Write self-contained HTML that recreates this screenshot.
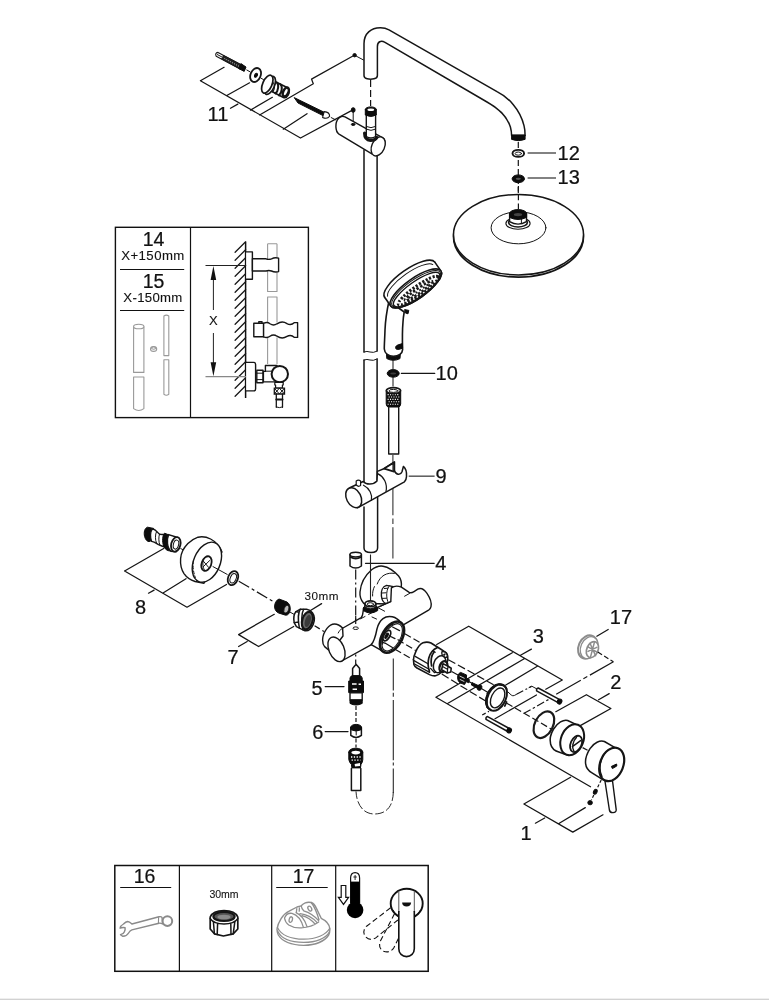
<!DOCTYPE html>
<html><head><meta charset="utf-8"><title>Exploded view</title>
<style>
html,body{margin:0;padding:0;background:#fff;}
body{width:769px;height:1000px;overflow:hidden;position:relative;}
svg{display:block;position:absolute;left:0;top:0;will-change:transform;}
svg text{font-family:"Liberation Sans",sans-serif;fill:#111;}
.k{stroke:#151515;stroke-width:1.4;fill:none;stroke-linecap:round;stroke-linejoin:round;}
.w{stroke:#151515;stroke-width:1.4;fill:#fff;stroke-linecap:round;stroke-linejoin:round;}
.n{stroke:#151515;stroke-width:1;fill:none;stroke-linecap:round;stroke-linejoin:round;}
.nw{stroke:#151515;stroke-width:1;fill:#fff;stroke-linejoin:round;}
.t{stroke:#151515;stroke-width:1.25;fill:none;stroke-linecap:round;stroke-linejoin:round;}
.l{stroke:#5a5a5a;stroke-width:1.5;fill:none;}
.d{stroke:#151515;stroke-width:1.2;fill:none;stroke-dasharray:9 3 2 3;}
.ds{stroke:#151515;stroke-width:1.2;fill:none;stroke-dasharray:5 3;}
.b{fill:#0c0c0c;stroke:#0c0c0c;stroke-width:1;}
.g{stroke:#999;stroke-width:1.1;fill:none;stroke-linecap:round;stroke-linejoin:round;}
.gw{stroke:#999;stroke-width:1.1;fill:#fff;stroke-linejoin:round;}
.big{font-size:20px;stroke:#111;stroke-width:0.22px;}
.sm{font-size:13px;stroke:#111;stroke-width:0.12px;}
.xs{font-size:10.5px;stroke:#111;stroke-width:0.1px;}
</style></head><body>
<svg width="769" height="1000" viewBox="0 0 769 1000">
<rect x="0" y="0" width="769" height="1000" fill="#fff"/>
<rect x="0" y="998" width="769" height="1" fill="#efefef"/>
<rect x="0" y="999" width="769" height="1" fill="#d2d2d2"/>

<!-- ===== SHOWER ARM ===== -->
<g id="arm">
<path class="w" style="stroke-width:1.5" d="M364,75.4 L364,43.6 C364,33.5 371,27.7 380.5,27.8 C384,27.9 386.6,28.6 389,29.8 L497,91.6 C508,97 520,109 524,125.6 C524.8,128.6 525.1,131 525.1,135.5 L511.6,135.5 C511.6,132 511.2,130 510.4,127 C507,116 496,107 487,102 L385,42.4 C381,40.2 377.4,41.6 377.4,46.4 L377.4,75.4 Q377.4,78 374,78.8 Q370.6,79.6 367.2,78.8 Q364,78 364,75.4 Z"/>
<path class="b" d="M511.6,135 L525.1,135 L525.1,139.4 Q518.3,142 511.6,139.4 Z"/>
</g>
<!-- dashed from arm to connector -->
<path class="ds" style="stroke-dasharray:7 3" d="M370.6,80 L370.6,106"/>

<!-- ===== RAIL ===== -->
<g id="rail">
<path class="k" style="stroke-width:1.5" d="M364,150 L364,352 M377.1,152 L377.1,351"/>
<path class="k" style="stroke-width:1.5" d="M364,360 L364,494 M377.1,359 L377.1,480"/>
<path class="n" d="M364,352 q3,-1.2 6,0 t7.1,-0.8 M364,360 q3,-1.2 6,0 t7.1,-1"/>
<path class="k" style="stroke-width:1.5" d="M364,507 L364,548 Q364,552.5 371,552.5 Q377.6,552.5 377.6,548 L377.6,495"/>
</g>

<!-- ===== WALL BRACKET ===== -->
<g id="bracket">
<path class="w" d="M345,116.9 C340.5,114.8 335.6,119.5 335.9,126.9 C336.1,130.5 337,132.6 338.6,133.8 L372.3,154.2 C376,156.5 382,153 384.3,146 C385.3,142 384.8,139.2 383.3,138.2 Z"/>
<ellipse class="w" cx="378.2" cy="146.4" rx="6.4" ry="10" transform="rotate(24 378.2 146.4)"/>
<!-- connector -->
<path class="k" style="stroke-width:3.2" d="M364.6,133 Q364.6,140 370.5,140.4 Q375.5,140.4 376.8,137.4"/>
<path class="w" d="M366.3,114 L366.3,136.5 Q371,139.5 375.6,136.5 L375.6,114 Z"/>
<path class="n" d="M366.3,126.5 Q371,129 375.6,126.5 M366.3,129.2 Q371,131.7 375.6,129.2"/>
<path class="b" d="M365.3,109.5 L365.3,115 Q370.8,118 376.3,115 L376.3,109.5 Z"/>
<ellipse class="b" cx="370.8" cy="109.5" rx="5.5" ry="2.6"/>
<ellipse cx="370.8" cy="109.8" rx="3.4" ry="1.3" fill="#fff"/>
<!-- small hole + screw -->
<ellipse class="b" cx="353.2" cy="124.4" rx="1.9" ry="1"/>
<path class="n" d="M353.2,112 L353.2,121"/>
<ellipse class="b" cx="353.2" cy="110" rx="1.9" ry="2.3"/>
</g>

<!-- ===== PART 11 ===== -->
<g id="p11">
<path class="t" d="M200.4,80.7 L224.1,67.3 M200.4,80.7 L300.5,138 L351,110.9 M226.8,95.5 L249.6,82.8 M250.5,110.1 L272.4,97.3 M259.6,115 L313.3,83.7 L311.5,79.1 L352.5,56.3 M283.3,129.2 L307,113.7 M230.5,108.3 L237.8,104.1"/>
<circle class="b" cx="354.6" cy="55.2" r="1.7"/>
<path class="n" d="M356,56 L363.5,60"/>
<!-- anchor screw 1 -->
<path class="w" style="stroke-width:1.1" d="M218,52.4 L242.5,65.4 L240.6,69.2 L216.2,56.2 Q214.6,53 218,52.4 Z"/>
<path d="M223.4,55.4 L242.4,65.4 L240.6,69.2 L221.6,59 Z" fill="#222" stroke="#151515" stroke-width="0.8"/>
<path d="M224.6,58.6 L240,66.8" stroke="#fff" stroke-width="1" stroke-dasharray="0.7 1.5" fill="none"/>
<path class="n" d="M217.4,54.6 L221.6,56.8"/>
<path class="b" d="M240.9,63.6 L246,67 L244.2,71.4 L238.8,68.6 Z"/>
<path class="n" d="M246.8,70 L250,71.8"/>
<!-- washer -->
<ellipse class="w" style="stroke-width:1.8" cx="255.6" cy="75" rx="5" ry="7.3" transform="rotate(24 255.6 75)"/>
<ellipse class="b" cx="256" cy="75.3" rx="1.3" ry="2.1" transform="rotate(24 256 75.3)"/>
<path class="n" d="M261.2,78.3 L263.5,79.6"/>
<!-- bushing -->
<g>
<path class="w" style="stroke-width:1.6" d="M274,81 L286.6,87.2 C289.5,88.8 289.6,92.5 288.2,95 C287,97.3 285,98.2 283,97.2 L270,90.5 Z"/>
<ellipse class="w" style="stroke-width:1.7" cx="269.8" cy="85.4" rx="4.6" ry="9.6" transform="rotate(24 269.8 85.4)"/>
<ellipse class="w" style="stroke-width:1.7" cx="267.3" cy="84.2" rx="4.6" ry="9.6" transform="rotate(24 267.3 84.2)"/>
<path class="k" style="stroke-width:2" d="M276.8,82.6 C279,84 278.6,91 275.4,93.4 M280.4,84.4 C282.6,85.8 282.2,92.8 279,95.4"/>
<path class="k" style="stroke-width:1.2" d="M273.6,83 C275,85 274.6,89.6 272.8,91.8"/>
<ellipse class="w" style="stroke-width:2.6" cx="285.8" cy="92" rx="2.6" ry="4.7" transform="rotate(24 285.8 92)"/>
</g>
<!-- screw 2 -->
<path class="b" d="M294.2,97.6 L324.5,112.4 L323,115.6 L298,103 Z"/>
<path class="w" style="stroke-width:1.1" d="M324.2,111.6 Q329.8,112 329.6,116.3 Q327.2,119.6 322.6,117.4 Z"/>
<path class="n" d="M331.2,117.6 L335.5,119.8"/>
<text class="big" x="207.6" y="120.8">11</text>
</g>

<!-- ===== 12 / 13 ===== -->
<g id="p1213">
<path class="ds" style="stroke-dasharray:6 3" d="M518.3,142 L518.3,212"/>
<ellipse class="w" style="stroke-width:1.9" cx="518.3" cy="153.4" rx="5.8" ry="3.5"/>
<ellipse class="w" style="stroke-width:1" cx="518.3" cy="153.6" rx="3.2" ry="1.6"/>
<ellipse class="b" cx="518.3" cy="178.8" rx="6.2" ry="3.9"/>
<ellipse cx="518.3" cy="178.8" rx="2.6" ry="1.1" fill="#555"/>
<path class="l" d="M527.6,153.1 L556,153.1 M527.6,178.1 L556,178.1"/>
<text class="big" x="557.6" y="159.8">12</text>
<text class="big" x="557.6" y="184.3">13</text>
</g>

<!-- ===== HEAD SHOWER ===== -->
<g id="head">
<ellipse class="w" style="stroke-width:1.7" cx="518.5" cy="236.6" rx="65" ry="40.6"/>
<ellipse class="w" style="stroke-width:1.5" cx="518.5" cy="234.7" rx="65" ry="40.2"/>
<ellipse class="n" style="stroke-width:1" cx="518.5" cy="227.8" rx="27.4" ry="16"/>
<ellipse class="w" style="stroke-width:1.1" cx="518" cy="223.4" rx="12.1" ry="5.9"/>
<ellipse class="w" style="stroke-width:1.6" cx="518" cy="222.4" rx="9.4" ry="4.6"/>
<path class="w" style="stroke-width:1.4" d="M509.6,214 L509.6,221.6 Q518,226.6 526.5,221.6 L526.5,214 Z"/>
<path class="n" d="M521.4,219.4 L521.4,223.6"/>
<path class="b" d="M509.5,213.6 L509.5,217.4 Q518,221.6 526.6,217.4 L526.6,213.6 Z"/>
<ellipse class="b" cx="518.05" cy="213.6" rx="8.55" ry="4"/>
<ellipse cx="518" cy="214.6" rx="4.2" ry="1.6" fill="#444"/>
<path class="ds" style="stroke-dasharray:5.5 3.2" d="M518.4,186 L518.4,210"/>
</g>

<!-- ===== INSET BOX 14/15 ===== -->
<g id="inset">
<rect x="115.4" y="227.3" width="193" height="190.3" fill="#fff" stroke="#111" stroke-width="1.4"/>
<path d="M190.5,227.3 L190.5,417.6" stroke="#111" stroke-width="1.2"/>
<text class="big" x="153.6" y="245.8" text-anchor="middle" style="font-size:19.5px">14</text>
<text class="sm" x="153" y="260.3" text-anchor="middle" style="font-size:13.2px;letter-spacing:0.42px">X+150mm</text>
<path d="M120,269.5 L184.2,269.5 M120,310.5 L184.2,310.5" stroke="#111" stroke-width="1.1"/>
<text class="big" x="153.6" y="287.6" text-anchor="middle" style="font-size:19.5px">15</text>
<text class="sm" x="153" y="302.1" text-anchor="middle" style="font-size:13.2px;letter-spacing:0.3px">X-150mm</text>
<!-- gray tubes -->
<path class="gw" d="M133.6,326.5 L133.6,372.4 L143.9,372.4 L143.9,326.5"/>
<ellipse class="gw" cx="138.75" cy="326.5" rx="5.15" ry="2.3"/>
<path class="gw" d="M133.6,377 L143.9,377 L143.9,408.6 Q138.75,412.4 133.6,408.6 Z"/>
<path class="gw" d="M163.9,316 L163.9,355.6 L168.8,355.6 L168.8,316 Q166.35,314.2 163.9,316 Z"/>
<path class="gw" d="M163.9,359.8 L168.8,359.8 L168.8,394.2 Q166.35,396.2 163.9,394.2 Z"/>
<ellipse class="gw" cx="153.6" cy="349" rx="3.1" ry="2.4"/>
<ellipse class="g" cx="153.6" cy="348" rx="2" ry="1.2"/>
<!-- wall hatch -->
<path d="M245.6,241.8 L245.6,398" stroke="#111" stroke-width="1.5"/>
<path class="n" style="stroke-width:1.25" d="M245.6,241.8 l-10.5,10.5 M245.6,249.8 l-10.5,10.5 M245.6,257.8 l-10.5,10.5 M245.6,265.8 l-10.5,10.5 M245.6,273.8 l-10.5,10.5 M245.6,281.8 l-10.5,10.5 M245.6,289.8 l-10.5,10.5 M245.6,297.8 l-10.5,10.5 M245.6,305.8 l-10.5,10.5 M245.6,313.8 l-10.5,10.5 M245.6,321.8 l-10.5,10.5 M245.6,329.8 l-10.5,10.5 M245.6,337.8 l-10.5,10.5 M245.6,345.8 l-10.5,10.5 M245.6,353.8 l-10.5,10.5 M245.6,361.8 l-10.5,10.5 M245.6,369.8 l-10.5,10.5 M245.6,377.8 l-10.5,10.5 M245.6,385.8 l-10.5,10.5"/>
<!-- dimension -->
<path d="M205.5,265.5 L247,265.5" stroke="#222" stroke-width="1"/>
<path d="M205.5,376.7 L246,376.7" stroke="#888" stroke-width="1.2"/>
<path d="M213.4,278 L213.4,310 M213.4,333 L213.4,364" stroke="#222" stroke-width="1"/>
<path d="M213.4,266 L210.6,280 L216.2,280 Z M213.4,376.2 L210.6,362.2 L216.2,362.2 Z" fill="#111"/>
<text class="sm" x="213.4" y="325" text-anchor="middle" style="font-size:13px">X</text>
<!-- gray rail segments -->
<path class="gw" d="M267.6,243.7 L267.6,259 M277,243.7 L277,259 M267.6,243.7 L277,243.7"/>
<path class="gw" d="M267.6,271 L267.6,291.5 L277,291.5 L277,271"/>
<path class="gw" d="M267.6,322.5 L267.6,297 L277,297 L277,322.5"/>
<path class="gw" d="M267.6,337.5 L267.6,364 M277,337.5 L277,364"/>
<!-- upper bracket -->
<path class="w" d="M246.3,251.9 L252.4,251.9 L252.4,279.2 L246.3,279.2"/>
<path class="w" d="M252.4,258.8 L266,258.8 C268,259.6 269.5,259.6 271.5,258.8 C274,257.6 276.5,257.6 278.6,258.2 L278.6,271.6 C276.5,272.2 274,272.2 271.5,271 C269.5,270.2 268,270.2 266,271 L252.4,271 Z"/>
<!-- middle slider -->
<path class="w" d="M253.8,323.3 L263.6,323.3 L263.6,336.8 L253.8,336.8 Z"/>
<path class="w" d="M258.8,321.6 L262,321.6 L262,323.3 L258.8,323.3 Z"/>
<path class="w" d="M263.6,323.3 C266,322.2 268,322.2 270,323.8 C272.5,325.6 274.5,325.6 277,323.8 C280,321.8 284,321.6 287,323.6 C290,325.4 293,324 294.5,322.6 L297.6,322.6 L297.6,337.4 L294.5,337.4 C293,336 290,334.6 287,336.4 C284,338.4 280,338.2 277,336.2 C274.5,334.4 272.5,334.4 270,336.2 C268,337.8 266,337.8 263.6,336.8 Z"/>
<!-- lower -->
<path class="w" d="M246.3,362.4 L253.6,362.4 Q255.6,362.4 255.6,364.4 L255.6,388.9 Q255.6,390.9 253.6,390.9 L246.3,390.9"/>
<path class="w" d="M256.8,370.2 L263,370.2 L263,382.7 L256.8,382.7 Z"/>
<path class="n" d="M256.8,373.2 L263,373.2 M256.8,379.6 L263,379.6"/>
<path class="w" d="M263.4,371.4 L265.4,371.4 L265.4,365.5 L277,365.5 L277,381.9 L263.4,381.9 Z"/>
<path class="n" d="M265.4,371.2 L273,371.2"/>
<circle class="w" style="stroke-width:2" cx="279.8" cy="374.1" r="8.2"/>
<path class="w" style="stroke-width:1.2" d="M274.8,382.4 L283.2,382.4 L283.2,385 L282.4,385 L282.4,388.2 L275.6,388.2 L275.6,385 L274.8,385 Z"/>
<path class="w" style="stroke-width:1.3" d="M274.3,388.2 L284.5,388.2 L284.5,394 L274.3,394 Z"/>
<path class="n" d="M274.3,394 L279.4,388.2 L284.5,394 M274.3,388.2 L279.4,394 L284.5,388.2"/>
<path class="k" style="stroke-width:1.3" d="M276.3,394 L276.3,407.3 M282.5,394 L282.5,407.3"/>
<path class="k" style="stroke-width:2" d="M276.3,399.4 L282.5,399.4"/>
<path class="n" d="M276.3,407 Q279.4,408.4 282.5,407"/>
</g>

<!-- ===== HAND SHOWER ===== -->
<g id="hand">
<!-- handle -->
<path class="b" d="M386.4,353 L400.4,353 L400,358.6 Q393.3,362 386.8,358.6 Z"/>
<path class="w" style="stroke-width:1.6" d="M389,301 C387,310 385.4,320 385,330 C384.8,338 384.2,345 384.3,349 C384.6,353 388,356.4 393.4,356.4 C398.8,356.4 402.4,353.4 402.6,349.6 C402.3,340 402.3,330 403,322 C403.2,318 403.6,315.5 404.2,312 Z"/>
<path class="b" d="M395.8,346.6 C396.6,345 399,344.6 402.4,343.6 L402.6,348 C400,349.4 397.4,349.8 396.4,349.2 C395.6,348.6 395.4,347.6 395.8,346.6 Z"/>
<!-- head -->
<g transform="translate(-2.8 -2.8) rotate(-35 418.6 291.2)">
<ellipse class="w" style="stroke-width:1.6" cx="418.6" cy="280.6" rx="30.6" ry="10.4"/>
<path class="w" style="stroke-width:1.6" d="M388,280.6 L388,291.2 A30.6,10.2 0 0 0 449.2,291.2 L449.2,280.6"/>
<path class="n" d="M391,281.4 A27.8,8.6 0 0 1 446.2,281.4"/>
<ellipse class="w" style="stroke-width:1.6" cx="418.6" cy="291.2" rx="30.6" ry="10.2"/>
<ellipse class="n" cx="418.6" cy="291.8" rx="29.2" ry="9.2"/>
<ellipse class="w" style="stroke-width:1.4" cx="418.6" cy="292.6" rx="27.8" ry="8"/>
<ellipse cx="419.4" cy="294.4" rx="24.2" ry="4.8" fill="none" stroke="#1a1a1a" stroke-width="3" stroke-dasharray="2.2 1.6"/>
<ellipse cx="419.4" cy="294.8" rx="16.6" ry="2.4" fill="none" stroke="#1a1a1a" stroke-width="2.6" stroke-dasharray="2.4 1.8"/>
<path d="M407,295 L432,295" fill="none" stroke="#1a1a1a" stroke-width="1.8" stroke-dasharray="2 2.4"/>
</g>
<path class="b" d="M404.6,309.6 L408.8,310.4 L408,313.8 L405.4,313 Z"/>
</g>

<!-- ===== WASHER 10 + HOSE ===== -->
<g id="p10">
<path class="n" d="M393,360 L393,369 M393,377.5 L393,386"/>
<ellipse class="b" cx="393.2" cy="373.4" rx="6" ry="3.8"/>
<ellipse cx="393.2" cy="373.5" rx="3" ry="1" fill="#3a3a3a"/>
<path class="t" d="M401.4,373.4 L434.7,373.4"/>
<text class="big" x="435.6" y="380">10</text>
<!-- knurled nut -->
<path class="b" d="M386.2,390.6 L386.2,404 Q386.4,406.6 388.7,407.5 L398.2,407.5 Q400.5,406.6 400.7,404 L400.7,390.6 Z"/>
<path d="M387.6,394.6 L399.6,394.6 M388.6,397 L399.6,397 M387.6,399.4 L399.6,399.4 M388.6,401.8 L399.6,401.8 M387.6,404.2 L399.6,404.2" stroke="#fff" stroke-width="1.1" stroke-dasharray="1.1 1.3" fill="none"/>
<ellipse class="w" style="stroke-width:1.8" cx="393.45" cy="390.6" rx="7.1" ry="3"/>
<ellipse class="n" cx="393.45" cy="390.9" rx="4.4" ry="1.5"/>
<path class="w" d="M388.7,407.5 L388.7,454 L398.7,454 L398.7,407.5"/>
<path d="M392.9,455 L392.9,463 M392.9,487 L392.9,515.2 M392.9,518.4 L392.9,524 M392.9,527.2 L392.9,558.4" stroke="#333" stroke-width="1.1" fill="none"/>
</g>

<!-- ===== SLIDER 9 ===== -->
<g id="p9">
<path class="w" style="stroke-width:1.5" d="M349.8,487.8 L363.2,481.5 C366,484.8 373,485.2 377,481 L377.4,471.4 L383.8,468.8 L394.5,461.8 L394.5,470.4 C395.4,474.8 400.4,475.8 402,471.8 L403.4,466.4 C405.8,468.4 406.8,472.6 406.5,476.6 C406.3,479.4 405.4,481 404.4,481.8 L357.5,507.8 Z"/>
<path class="w" d="M384.2,468.6 L394,462.4 L394,471.6 Z" style="stroke-width:1.8"/>
<path d="M392.9,463.6 L392.9,471.6" stroke="#333" stroke-width="1.1" fill="none"/>
<ellipse class="w" style="stroke-width:1.5" cx="353.7" cy="497.7" rx="7.2" ry="10.6" transform="rotate(-27 353.7 497.7)"/>
<path class="k" style="stroke-width:1.2" d="M377.6,473.6 C384,476.6 387.6,483.6 386,491.4 M363.5,485.2 C369.5,488 372.6,495 371.4,500.2"/>
<path class="w" style="stroke-width:1.2" d="M356.2,485 L356.2,481 Q358.4,479.4 360.6,481 L360.6,485.6 Q358.4,487.2 356.2,485 Z"/>
<path class="l" d="M408.7,476.2 L434.6,476.2"/>
<text class="big" x="435.4" y="482.6">9</text>
</g>

<!-- ===== PART 4 cap ===== -->
<g id="p4">
<path class="d" style="stroke-dasharray:10 3 2 3" d="M355.7,569.5 L355.7,664"/>
<path class="w" style="stroke-width:1.5" d="M350,554.6 L350,566 Q355.7,570.2 361.4,566 L361.4,554.6"/>
<ellipse class="w" style="stroke-width:1.5" cx="355.7" cy="554.6" rx="5.7" ry="2.3"/>
<path class="k" style="stroke-width:1.6" d="M350.4,557 Q355.7,560.2 361,557"/>
<path class="t" d="M365.5,563.3 L434.2,563.3"/>
<text class="big" x="435.2" y="569.8">4</text>
</g>

<!-- ===== MIXER BODY ===== -->
<g id="mixer">
<!-- wall flange -->
<path class="w" d="M363.8,603.5 C360.8,600 359.6,596 360,592 C360.6,585 364.5,576 371.6,569.8 C375.5,566.8 379.5,565.6 383,566.2 C388,567 394,571 398.6,576 C401,579 402,582.5 401.2,587.4 L392,604 Z"/>
<path class="n" d="M377.2,584 C378.6,580 381,577 384,575.2 C387.5,573.2 391,572.8 394.4,573.4 M372.6,596 C372.4,592.5 373,589.5 374.4,586.6"/>
<path d="M370.5,554.5 L370.5,602" stroke="#222" stroke-width="1.1" fill="none"/>
<!-- nut -->
<path class="w" d="M386.5,585.4 C382.5,586.5 380.8,591 381.4,596 C381.8,599.5 383.4,602.5 385.6,603.4 L393,603 L393.4,586.6 Z"/>
<path class="n" d="M389.6,585.6 C386.4,588 385.4,598 388.6,603.2 M384.4,588.5 L388,588.2 M382,593 L386,592.8 M382.4,598.4 L386.6,598.2"/>
<!-- main T body -->
<path class="w" d="M391.4,587.8 C394,586 398.5,586 401.4,587.2 L409.2,592.4 C411,593.2 412.4,592.6 414,591.6 L417.8,589.2 C421,587.4 424.4,589.6 427,593.4 C430,597.8 431.8,602.6 431,606.6 C430.6,608.4 429.8,609.2 429,609.8 L404.6,624.2 L371,644.9 L341.7,661 L325,640 L343,628 L361.2,617.6 C362.6,616.4 362.8,614.4 363,612 L364,607.5 L377.5,607.4 L390.8,601.6 Z"/>
<path class="n" d="M404.6,596.2 L409.6,593.4 M377.5,607.4 L384.6,611.2 M379.8,606.6 L390.8,601.6"/>
<path class="n" style="stroke-dasharray:5 3" d="M360.6,618.8 L366,616 M368.6,614.4 L374,611.6 M372,617 L378.6,620"/>
<path class="d" style="stroke-dasharray:8 3" d="M355.7,616 L355.7,627"/>
<ellipse class="nw" cx="355.7" cy="628.2" rx="2.7" ry="1.3"/>
<!-- top port -->
<path class="b" d="M363.3,608.4 L363.3,610.6 Q370.5,615.4 377.7,610.6 L377.7,608.4 Z"/>
<ellipse class="b" cx="370.5" cy="608.4" rx="7.2" ry="3.4"/>
<path class="w" style="stroke-width:1.5" d="M364.9,603.8 L364.9,607.2 Q370.4,610.6 375.9,607.2 L375.9,603.8"/>
<ellipse class="w" style="stroke-width:1.8" cx="370.4" cy="603.8" rx="5.5" ry="2.9"/>
<ellipse class="n" cx="370.4" cy="604.2" rx="3.2" ry="1.5"/>
<!-- left collar -->
<path class="w" d="M342.6,628 C340,625.4 337.6,624 334.5,624 C331.5,624 329.2,625.6 327,628.4 C324.2,632 322.6,636 322.6,640 C322.6,643 323.2,645 324.6,646.6 L331,652 L343,636 Z"/>
<path class="n" d="M342.6,628 C340.4,629.6 339,631.2 338.2,633"/>
<ellipse class="w" cx="336.5" cy="649.3" rx="7.6" ry="13" transform="rotate(-23 336.5 649.3)"/>
<!-- front housing -->
<path class="w" style="stroke-width:1.5" d="M371.2,644.6 C374.6,641 376,634 377,628.8 C378,624.6 380,621 383,618.6 C385.4,616.8 389,616.2 392.3,616.8 C395.6,617.6 398.6,619.6 400.6,622.4 L402,640 L383.9,651.8 Z"/>
<ellipse class="w" style="stroke-width:2.6" cx="392" cy="637.1" rx="9.9" ry="17.1" transform="rotate(30 392 637.1)"/>
<ellipse class="n" style="stroke-width:1.1" cx="392.2" cy="637.3" rx="8" ry="15" transform="rotate(30 392.2 637.3)"/>
<path class="k" style="stroke-width:1.6" d="M382.4,644 C381.6,639 383.6,632 387.6,627.4 C389.6,625.4 391,624.6 392.4,624.4"/>
<ellipse class="w" style="stroke-width:1.8" cx="386.9" cy="635.6" rx="2.9" ry="5.8" transform="rotate(30 386.9 635.6)"/>
<ellipse class="b" cx="386.6" cy="635.8" rx="1.2" ry="3" transform="rotate(30 386.6 635.8)"/>
<path class="n" style="stroke-width:1.2" d="M392.6,627 L399.6,630.6 M389.6,636 L395,638.6 M385,643 L392.4,647.6 M382,642 L385.4,643.4"/>
</g>

<!-- ===== PART 8 ===== -->
<g id="p8">
<path class="t" d="M124.6,571 L163.7,548.5 M124.6,571 L187,607.2 L226.5,584.5 M162.6,593.2 L186,578.7 M148.5,593.2 L154.1,590.1"/>
<text class="big" x="135" y="613.6">8</text>
<!-- S-union -->
<path class="b" d="M147.5,527.2 C144.6,528 143.6,532.5 144.6,536.5 C145.4,539.6 147,541.4 149,541.6 L153,540 L153.6,528.4 Z"/>
<path class="w" d="M152.4,528.6 C155.5,529.6 157,531.6 158.6,533.4 C160,534.8 162,534.6 164,534.4 L165,547 C162.6,546.4 160.6,545.6 158.6,544.6 C156.4,543.4 154.5,542 151.6,541.4 C150,538 150,532 152.4,528.6 Z"/>
<path class="n" d="M156.6,531.4 C155,534.4 155,540 156.6,543.4 M159.6,534 C158.4,536.6 158.6,541.6 159.8,545"/>
<path class="b" d="M164.6,533.2 C162.4,535.4 162,541.6 163.6,546 C164.6,548.4 166,549.8 168,550.6 L173,551.6 L174,537 Z"/>
<path class="w" style="stroke-width:1.5" d="M168.6,534.6 L176,537 L176,551.8 L171,551.2 C167,548 166.4,539.4 168.6,534.6 Z"/>
<ellipse class="w" style="stroke-width:1.8" cx="175.8" cy="544.4" rx="4.6" ry="7.4" transform="rotate(14 175.8 544.4)"/>
<ellipse class="n" cx="176" cy="544.6" rx="2.6" ry="4.6" transform="rotate(14 176 544.6)"/>
<path class="n" d="M180.8,548.6 L183.6,550"/>
<!-- escutcheon -->
<path class="w" d="M198,537.2 C194,538.6 190.6,541 187.9,543.6 C183.6,548 181,553 180.6,558.6 C180.2,564 181,569 184,573.6 C186.6,577.4 190.6,580 195.1,581.5 L204,583.2 L222,552 C219.6,546 215.6,541.6 210.6,539 C206.6,537 202,536.4 198,537.2 Z"/>
<ellipse class="w" cx="206.9" cy="562.2" rx="13.2" ry="21" transform="rotate(23 206.9 562.2)"/>
<path class="n" style="stroke-dasharray:3 2" d="M193.4,561 C192.6,566 193.2,572 195.4,577.4"/>
<ellipse class="w" style="stroke-width:1.8" cx="206.5" cy="563.6" rx="4.8" ry="7.6" transform="rotate(20 206.5 563.6)"/>
<path class="n" d="M203.4,566.6 L209.6,560.6 M203.6,561.4 L208.6,567.4 M204.6,557.6 C202.4,560.6 202.2,566.6 204.4,570"/>
<path class="n" d="M213,566.6 L227.2,574.4"/>
<!-- washer -->
<ellipse class="w" style="stroke-width:1.8" cx="233" cy="578.1" rx="4.9" ry="7.3" transform="rotate(22 233 578.1)"/>
<ellipse class="n" cx="233.2" cy="578.3" rx="2.9" ry="4.9" transform="rotate(22 233.2 578.3)"/>
<path class="d" style="stroke-dasharray:12 3 3 3" d="M238.8,581.2 L275,602.6"/>
</g>

<!-- ===== PART 7 ===== -->
<g id="p7">
<path class="t" d="M238.6,634.6 L274.3,614.3 M238.6,634.6 L258.6,646.5 L293.7,626.5 M247.2,641.5 L238.6,646.5"/>
<text class="big" x="227.6" y="663.8">7</text>
<!-- sieve -->
<path class="b" d="M279,599 C276,600.4 274.4,603.6 274.6,607 C274.8,610 276.4,612 278.6,613 L285.6,615.2 C288,615.4 289.8,613.2 290.2,610 C290.6,606.6 289.4,603.6 287,602 Z"/>
<ellipse cx="286.4" cy="609.2" rx="2.3" ry="4" transform="rotate(18 286.4 609.2)" fill="#bbb" stroke="#111" stroke-width="0.8"/>
<path class="n" d="M290.2,612.2 L293.8,614.2"/>
<!-- nut -->
<path class="w" style="stroke-width:1.5" d="M300.4,609.2 L296,611.6 C294,614 293.4,618.6 294.2,622.6 L296.4,626.6 L305,630.8 C308,631.2 311.4,628.6 313.2,624.4 C314.8,620.4 314.6,615.6 312.4,612.6 C311,610.8 309,609.6 306.6,609.2 Z"/>
<path class="k" d="M300.4,609.2 C298.4,612 297.6,619.6 299.4,628 M296,611.6 L299,612.2 M294.2,622.6 L298.8,622 M303.6,609.4 C301.6,613 301,622 303,629.8"/>
<ellipse cx="307.4" cy="620.6" rx="5.2" ry="9" transform="rotate(16 307.4 620.6)" fill="#6a6a6a" stroke="#151515" stroke-width="2.2"/>
<ellipse cx="307.8" cy="621" rx="2.8" ry="6.2" transform="rotate(16 307.8 621)" fill="#3a3a3a"/>
<path class="ds" style="stroke-dasharray:6 3" d="M314.6,625.8 L324,631.4"/>
<text class="xs" x="304.6" y="599.5" style="font-size:11.7px;letter-spacing:0.5px">30mm</text>
<path class="t" d="M321.6,603.6 L310.1,610.8"/>
</g>

<!-- ===== PART 5/6 + lower hose ===== -->
<g id="p56">
<path d="M393.3,658.5 L393.3,690.6 M393.3,692.8 L393.3,696.8 M393.3,700 L393.3,760.3 M393.3,762.4 L393.3,765.5 M393.3,768.6 L393.3,793" stroke="#2a2a2a" stroke-width="1.1" fill="none"/>
<path class="d" style="stroke-width:1;stroke:#2a2a2a;stroke-dasharray:9 2.5" d="M393.3,792 C393,806 387,814 374,814 C362,813.6 356.6,803 356,791.4"/>
<path class="ds" style="stroke-dasharray:4 2" d="M356,706 L356,722 M356,738.6 L356,747.4"/>
<!-- part 5 -->
<path class="w" style="stroke-width:1.5" d="M352.6,676 L352.6,668.4 L354.6,666 L356,664.4 L357.6,666 L359.6,668.4 L359.6,676"/>
<path class="b" d="M350,681 L350,678 Q350.4,676 352.6,675.6 L359.6,675.6 Q361.8,676 362.2,678 L362.2,681 Z"/>
<path class="b" d="M348.7,681 L363.5,681 L363.5,692.6 L348.7,692.6 Z"/>
<path d="M352,684 L356.6,684 M358.6,684.2 L361,684.2 M352.6,689.2 L357,689.2" stroke="#fff" stroke-width="1.4" fill="none"/>
<path class="w" d="M350,692.8 L362.2,692.8 L362.2,700 L350,700 Z"/>
<path class="b" d="M350,700 L362.2,700 L362.2,703.4 Q356,706.6 350,703.4 Z"/>
<path class="t" d="M325.2,686.6 L344,686.6"/>
<text class="big" x="311.6" y="694.8">5</text>
<!-- part 6 -->
<path class="w" style="stroke-width:1.5" d="M350.8,727.4 L350.8,735.4 Q356,739.4 361.4,735.4 L361.4,727.4"/>
<ellipse class="b" cx="356.1" cy="727.2" rx="5.3" ry="2.8"/>
<path class="b" d="M350.8,727 L361.4,727 L361.4,729.6 Q356,732.6 350.8,729.6 Z"/>
<path class="n" d="M356.2,731.6 L356.2,735"/>
<path class="t" d="M325.2,731.5 L348,731.5"/>
<text class="big" x="312.2" y="739.2">6</text>
<!-- hose nut -->
<path class="b" d="M348.8,752 L348.8,759.6 Q349.4,762.6 351.4,764.4 L352,768.4 L360.4,768.4 L361,764.4 Q362.6,762.6 362.8,759.6 L362.8,752 Z"/>
<ellipse class="b" cx="355.8" cy="752" rx="7" ry="3.8"/>
<ellipse cx="355.8" cy="752.6" rx="4.4" ry="1.8" fill="#fff"/>
<path d="M351,757 L361,757 M351.6,760.2 L360.4,760.2" stroke="#fff" stroke-width="1.3" stroke-dasharray="1.3 1.5" fill="none"/>
<path d="M354.6,764 L360,763 L360,766 L355,766.6 Z" fill="#fff"/>
<path class="w" style="stroke-width:1.5" d="M351.4,768.4 L351.4,790.4 L360.8,790.4 L360.8,768.4"/>
</g>

<!-- ===== PART 3 group (cartridge etc) ===== -->
<g id="p3">
<path class="t" d="M436.7,644.5 L468.7,626.2 L562.3,680 L545.8,689.3 M512.3,652.7 L435.9,697.2 L590.5,786.8 M524.6,658.5 L447.6,703.5 M531.4,649.1 L520.5,655.3 M537.3,666.2 L505.8,685 M495,718.7 L536.5,695"/>
<text class="big" x="532.8" y="643.4">3</text>
<!-- projection dashes housing -> cartridge -->
<path class="ds" style="stroke-dasharray:7 3" d="M404.8,633.7 L421.7,643.4 M397.6,639.5 L415.8,650.6 M395,649.3 L412.5,659.4"/>
<path class="ds" style="stroke-dasharray:8 3" d="M448.3,659.7 L473,673.3 L493.6,684.8 M441.8,674 L462.6,687 L486.4,701.5 M451.6,671.4 L458,675 M468.8,681.4 L472,683.2 M481.8,688.8 L488,692.4"/>
<!-- cartridge -->
<path class="w" style="stroke-width:1.6" d="M423,642.8 C420,644 417.6,647.6 415.8,651.6 C414.2,655 413.4,658 413.5,660 L413.9,664.4 C414.4,666 415.6,667 417,668 L429.5,674.6 C431.6,675.6 433.6,676 435.6,675.8 C440,674.6 444.6,670 446.6,664.6 C447.8,661.6 448.2,658.6 447.7,656.2 C447.4,654.6 447,653.6 446.4,652.9 L440.5,649 L431,643 C428.6,642 425.4,642 423,642.8 Z"/>
<path class="k" style="stroke-width:1.7" d="M437.4,647.6 C433,649.6 430,653.6 428.8,658 C427.8,662 428,667 429.4,671.6 M434,652.2 C431.6,655 430.6,660.6 431.6,666"/>
<path class="k" style="stroke-width:1.3" d="M414,660.6 L429,669.2 M414.6,664 L429.6,672.4 M415.2,656.4 L428.4,664 M432.6,650.6 L435.2,652.2 M430.6,668.4 L434.4,672.6 L438.6,671.4"/>
<path class="w" style="stroke-width:1.3" d="M441.8,651.8 C444,650.8 446.6,652.6 447.2,655.2 C447.4,656.8 446.6,657.8 445,657.4 C443,656.8 441.6,654.4 441.8,651.8 Z"/>
<circle class="b" cx="444.4" cy="654.6" r="0.7"/>
<ellipse class="w" style="stroke-width:1.5" cx="439.6" cy="664.2" rx="5.8" ry="8.8" transform="rotate(22 439.6 664.2)"/>
<ellipse class="w" style="stroke-width:2.4" cx="443.4" cy="666.6" rx="3.6" ry="5.6" transform="rotate(22 443.4 666.6)"/>
<path class="w" style="stroke-width:1.6" d="M443,663.6 L448,666.2 L451.2,668.2 L450.8,672 L447.2,673 L441.6,669.8 Z"/>
<path class="k" style="stroke-width:1.2" d="M448,666.2 L447.2,673 M443,666.8 L447.4,669.2"/>
<!-- adapter -->
<path class="b" d="M460.6,672.4 C458,673.4 457.2,676.4 457.8,679.2 C458.2,681.4 459.4,682.6 461,683.2 L464.6,684.6 L466,681.6 L468.8,682.8 L469.4,679.6 L466.4,678 L466.6,675 Z"/>
<path d="M459.6,676 L464.6,678.4 M459.8,679.4 L464.4,681.6" stroke="#fff" stroke-width="0.8" fill="none"/>
<!-- small screw -->
<path class="b" d="M472,682.6 L478,685.4 L477,688 L471.4,685 Z"/>
<ellipse class="b" cx="479.6" cy="687.6" rx="2.1" ry="2.6" transform="rotate(25 479.6 687.6)"/>
<!-- ring -->
<ellipse class="b" cx="495.6" cy="696.9" rx="9" ry="14" transform="rotate(26 495.6 696.9)"/>
<ellipse class="w" style="stroke-width:2" cx="496.9" cy="697.6" rx="9" ry="14" transform="rotate(26 496.9 697.6)"/>
<ellipse class="w" style="stroke-width:1.4" cx="497.6" cy="697.9" rx="6.2" ry="10.6" transform="rotate(26 497.6 697.9)"/>
<path class="k" style="stroke-width:1.8" d="M499.6,684.6 L504.4,685.6 L506.6,689 M486.4,701.6 L487,707 L491,710.2 M489.4,690.8 L487.4,693.6 M506.6,702 L504.8,706"/>
<!-- ring -> O-ring axis -->
<path class="ds" style="stroke-dasharray:7 3" d="M506.4,703 L551.5,729.2"/>
<!-- rounded leader ring -> upper screw -->
<path class="n" d="M508.2,692.2 L511.2,695 Q512.8,696.4 514.6,695.4 L517,694"/>
<path class="d" style="stroke-dasharray:7 2.5 2 2.5" d="M517,694 L531.5,686.4"/>
<path class="n" d="M529,687.6 L531.8,686.2 L536.6,688.8"/>
<path class="d" style="stroke-dasharray:8 2.5 2.5 2.5" d="M523.6,713.6 L552,697.6"/>
<path class="ds" style="stroke-dasharray:4 2.5" d="M482.2,715.1 L489,711.2"/>
<!-- upper screw -->
<path class="w" style="stroke-width:1.5" d="M538.2,688 L558.8,699.2 L557.2,702.2 L536.6,690.8 Q536.2,688.4 538.2,688 Z"/>
<ellipse class="b" cx="559.6" cy="701.6" rx="2.2" ry="2.6" transform="rotate(28 559.6 701.6)"/>
<!-- lower screw -->
<path class="w" style="stroke-width:1.5" d="M487.6,716.6 L508.4,728 L506.8,731 L486,719.4 Q485.6,717 487.6,716.6 Z"/>
<ellipse class="b" cx="509.2" cy="730.4" rx="2.2" ry="2.6" transform="rotate(28 509.2 730.4)"/>
<!-- O-ring -->
<ellipse cx="543.9" cy="724.7" rx="9.1" ry="14.2" transform="rotate(27 543.9 724.7)" fill="none" stroke="#1a1a1a" stroke-width="2.2"/>
</g>

<!-- ===== PART 17 small + PART 2 + HANDLE + PART 1 ===== -->
<g id="p2">
<text class="big" x="609.8" y="623.9">17</text>
<path class="t" d="M608.2,629.5 L596.8,636.2"/>
<g>
<ellipse class="gw" style="stroke-width:2;stroke:#8c8c8c" cx="587.6" cy="647" rx="9" ry="12.2" transform="rotate(24 587.6 647)"/>
<ellipse class="gw" style="stroke-width:1.3;stroke:#8c8c8c" cx="589.2" cy="647.6" rx="8.4" ry="11.4" transform="rotate(24 589.2 647.6)"/>
<path class="w" style="stroke:none" d="M590,640 L598,644 L598,656 L590,658 Z"/>
<ellipse class="gw" style="stroke-width:1.7;stroke:#8c8c8c" cx="592.4" cy="649.6" rx="5.6" ry="8.4" transform="rotate(24 592.4 649.6)"/>
<path class="g" style="stroke-width:1.5;stroke:#8c8c8c" d="M594.4,642.4 L590.6,656.6 M587.6,646.6 L597.4,652.4 M590,643.2 L595.6,655.8 M588,651.4 L596.8,647.4"/>
</g>
<path class="ds" style="stroke-dasharray:5 2.5" d="M597.8,652 L613.4,661.8"/>
<path class="d" style="stroke-dasharray:27 3 4.5 3 40" d="M613.4,661.8 L556.2,694.2"/>
<text class="big" x="610.2" y="689">2</text>
<path class="t" d="M555.8,711.7 L586.4,694.7 L610.9,708.5 L580.3,725.6 M609.2,693.6 L598.6,699.8"/>
<!-- sleeve -->
<path class="w" style="stroke-width:1.5" d="M576,724.4 L567.6,720.5 C563.4,719.4 557.6,722.6 553.6,729 C550.6,734 549.6,740 550.6,744 C551.6,748.4 554.6,751 559.5,752.2 L568,755.4 Z"/>
<ellipse class="w" style="stroke-width:2" cx="572.2" cy="739.7" rx="11.2" ry="16" transform="rotate(21 572.2 739.7)"/>
<ellipse class="w" style="stroke-width:1.8" cx="576.1" cy="743.9" rx="5.4" ry="8.6" transform="rotate(24 576.1 743.9)"/>
<path class="k" d="M574,751.4 C571.6,748 572.4,741.6 576.4,737.6 M572.4,746.6 L580.6,740.6"/>
<path class="ds" style="stroke-dasharray:6 3" d="M582.6,747.6 L587.6,750.2"/>
<!-- handle -->
<path class="w" style="stroke-width:1.5" d="M615,747.6 L604.4,741.5 C600,740 594,742.6 590,748.6 C586.6,754 585.2,760 585.6,763.6 C586,767.6 588,770.6 592,772.8 L602.4,779.4 Z"/>
<!-- lever -->
<path class="w" style="stroke-width:1.4" d="M604.8,780 L609.4,810 Q610,812.8 613,812.6 Q616.4,812.4 616.2,809.6 L612.4,780 Z"/>
<ellipse class="w" style="stroke-width:2.2" cx="611.7" cy="764.4" rx="11.6" ry="17.4" transform="rotate(21 611.7 764.4)"/>
<path class="k" style="stroke-width:1.2" d="M602,776.4 C598.6,770 600,760 604.4,754 C607,750.4 610.6,748.2 614,748"/>
<path class="b" d="M611.4,766.4 L616.6,764 L616.8,766 L612.4,768.6 Z"/>
<!-- grub screws -->
<path class="ds" style="stroke-dasharray:3 2" d="M601.2,780 L597.2,788.2 M593.8,795 L591.4,800"/>
<ellipse class="b" cx="595.3" cy="791.7" rx="1.7" ry="2.6" transform="rotate(25 595.3 791.7)"/>
<ellipse class="b" cx="590.1" cy="802.7" rx="2.3" ry="2.1"/>
<!-- part 1 bracket -->
<path class="t" d="M570.6,777.2 L523.9,804 L572.8,832.1 L603,814.8 M559.3,823.2 L585.3,807.6 M535.4,823.2 L544.7,818"/>
<text class="big" x="520.6" y="840.4">1</text>
</g>

<!-- ===== BOTTOM BOX ===== -->
<g id="bottom">
<rect x="114.8" y="865.5" width="313.4" height="105.8" fill="#fff" stroke="#111" stroke-width="1.5"/>
<path d="M179.4,865.5 L179.4,971.3 M271.7,865.5 L271.7,971.3 M335.7,865.5 L335.7,971.3" stroke="#111" stroke-width="1.2"/>
<text class="big" x="144.6" y="882.8" text-anchor="middle" style="font-size:19.5px">16</text>
<text class="big" x="303.6" y="882.8" text-anchor="middle" style="font-size:19.5px">17</text>
<path d="M120.2,887.5 L171.2,887.5 M276.2,887.5 L327.7,887.5" stroke="#111" stroke-width="1.1"/>
<!-- wrench -->
<path class="gw" style="stroke-width:1.4;stroke:#8a8a8a" d="M131.9,924 L159,916.8 C160.4,916.4 161.4,916.6 162,917.4 L162.6,924 C161.6,923.4 160.4,923 159,923.2 L131.9,929.9 C130.6,930.4 129.4,931.6 128.6,933 C127.4,935 125,936.4 122.6,936.3 L120.5,934.6 C122.6,934 124,933 124.3,932 C125,930.4 125.4,929 125.1,927.8 C123.6,927.4 121.6,927.6 120.1,928.2 C120.4,926.6 121.6,925 123.5,924 C124.8,922.6 126.2,921.6 127.7,921.5 C129.4,921.6 130.6,922.8 131.9,924 Z"/>
<circle cx="167.4" cy="921.1" r="4.8" fill="#fff" stroke="#8a8a8a" stroke-width="2"/>
<path class="g" style="stroke:#8a8a8a" d="M158.6,917.6 L158.4,923.2"/>
<!-- 30mm nut -->
<text class="xs" x="209.4" y="898" style="font-size:10.5px">30mm</text>
<path class="w" style="stroke-width:1.7" d="M210.2,917 L210.2,929 L214.4,933.8 L223.4,936 L233.2,933.8 L237.8,929 L237.8,917 C236,912.8 230.4,910.6 224,910.6 C217.6,910.6 212,912.8 210.2,917 Z"/>
<path class="k" style="stroke-width:1.5" d="M210.2,918.6 C213,922.6 217.6,924 224,924 C230.4,924 235,922.6 237.8,918.6 M217.6,923.6 L217.2,934.6 M230.8,923.6 L231,934.6 M213.4,921.8 L214.4,933.8 M234.8,921.8 L233.2,933.8"/>
<ellipse cx="224" cy="916.4" rx="10.6" ry="4.6" fill="#555" stroke="#151515" stroke-width="2.2"/>
<ellipse cx="224" cy="917" rx="6.6" ry="2.3" fill="#8a8a8a"/>
<!-- 17 gray cap -->
<g>
<path class="gw" style="stroke-width:1.4;stroke:#8e8e8e" d="M277,929.2 C278,922 283,914 288.7,911.3 L297,907 L301.2,905.8 C303,904 304.6,903.2 305.3,902.9 C307,902.2 309.6,902.2 311.2,902.5 C313.6,903.4 315.2,905.6 316.2,907.9 L321.2,918.3 C324,919.6 326,921 327,922.5 C329,924.6 329.9,927 329.9,929.2 C329.8,932 329.2,934 328.7,935 C325,940.6 316,945 303.7,945.4 C291,945 282,941 278.3,935 C277.4,933 277,931 277,929.2 Z"/>
<path class="g" style="stroke-width:1.3;stroke:#8e8e8e" d="M277.4,927.5 C281,935 291,939.2 303.7,939.2 C316,939.2 326,935 329.8,928.3 M277.6,931 C281,938.4 291,942.4 303.7,942.4 C316,942.4 326,938.4 329.4,932"/>
<path class="g" style="stroke-width:1.3;stroke:#8e8e8e" d="M284.5,918 C286,914.4 289,912.8 292,913.4 C297,914.8 301.4,920 303.5,927.6 M296,912.6 C300.6,914.6 305,920 307,926.6 M284.5,918 C285,921 286.6,923.6 288.7,925 C292.6,927.4 297,928.2 301.2,927.9 C308,927.4 314,925.4 318.7,922 M301.2,905.8 C301.6,908 302.6,909.8 303.7,910.8 M300,913.6 C306,914.2 312.6,917.6 317.2,922.6 M303.7,910.8 C309,912.4 314.6,916 318.6,920.6 M302,915.6 C307,917 311.6,920 315,924 M311.2,902.5 C314,906 317,913 319,919.6 M296.8,908.6 L296.4,911.8 M299.4,908 L299.2,911.2"/>
<ellipse class="g" style="stroke-width:1.3;stroke:#8e8e8e" cx="290.8" cy="919.6" rx="1.6" ry="2.9" transform="rotate(14 290.8 919.6)"/>
<ellipse class="g" style="stroke-width:1.3;stroke:#8e8e8e" cx="309.8" cy="908.6" rx="1.7" ry="2.6" transform="rotate(-30 309.8 908.6)"/>
</g>
<!-- thermometer -->
<path d="M350.6,878 C350.6,874.6 352.4,872.6 355.1,872.6 C357.8,872.6 359.6,874.6 359.6,878 L359.6,903 L350.6,903 Z" fill="#fff" stroke="#111" stroke-width="1.2"/>
<path d="M350.6,881.6 L359.6,881.6 L359.6,904 L350.6,904 Z" fill="#000"/>
<circle cx="355.1" cy="910" r="8.3" fill="#000"/>
<path d="M355.1,875 L355.1,880 M353.4,877 L356.8,877" stroke="#111" stroke-width="0.9"/>
<!-- arrow -->
<path d="M341.2,885.5 L345.8,885.5 L345.8,897.4 L348.6,897.4 L343.5,904.4 L338.4,897.4 L341.2,897.4 Z" fill="#fff" stroke="#111" stroke-width="1.2" stroke-linejoin="miter"/>
<!-- handle front view -->
<g fill="none" stroke="#111" stroke-width="1.1" stroke-dasharray="5.5 3">
<path d="M390.6,907.8 L366.6,926.2 C363.4,929 362.8,933.4 365.6,936.8 C368.6,940.2 373.4,940.2 377,936.8 L397.9,920"/>
<path d="M394.6,913.6 L380.4,941 C378.6,945 379.6,949.4 383.6,951.2 C388,953 392,951 394,947.4 L407.7,920"/>
</g>
<ellipse cx="406.7" cy="903.6" rx="16" ry="14.8" fill="#fff" stroke="#111" stroke-width="1.9"/>
<path d="M393,910 C396,916.6 401,918.4 406.7,918.4 C412.4,918.4 417.4,916.6 420.4,910" fill="none" stroke="#111" stroke-width="0.9"/>
<path d="M398.8,891.6 L398.8,948.8 C398.8,953.4 402.2,956.6 406.55,956.6 C410.9,956.6 414.3,953.4 414.3,948.8 L414.3,891.6" fill="#fff" stroke="none"/>
<path d="M398.8,891 L398.8,912 M414.3,891 L414.3,912" fill="none" stroke="#555" stroke-width="1"/>
<path d="M398.8,911 L398.8,948.8 C398.8,953.4 402.2,956.6 406.55,956.6 C410.9,956.6 414.3,953.4 414.3,948.8 L414.3,911" fill="none" stroke="#111" stroke-width="1.6"/>
<path d="M402.1,902.6 L411.1,902.6 C411.1,905.4 409.2,906.5 406.6,906.5 C404,906.5 402.1,905.4 402.1,902.6 Z" fill="#111"/>
</g>


</svg>
</body></html>
